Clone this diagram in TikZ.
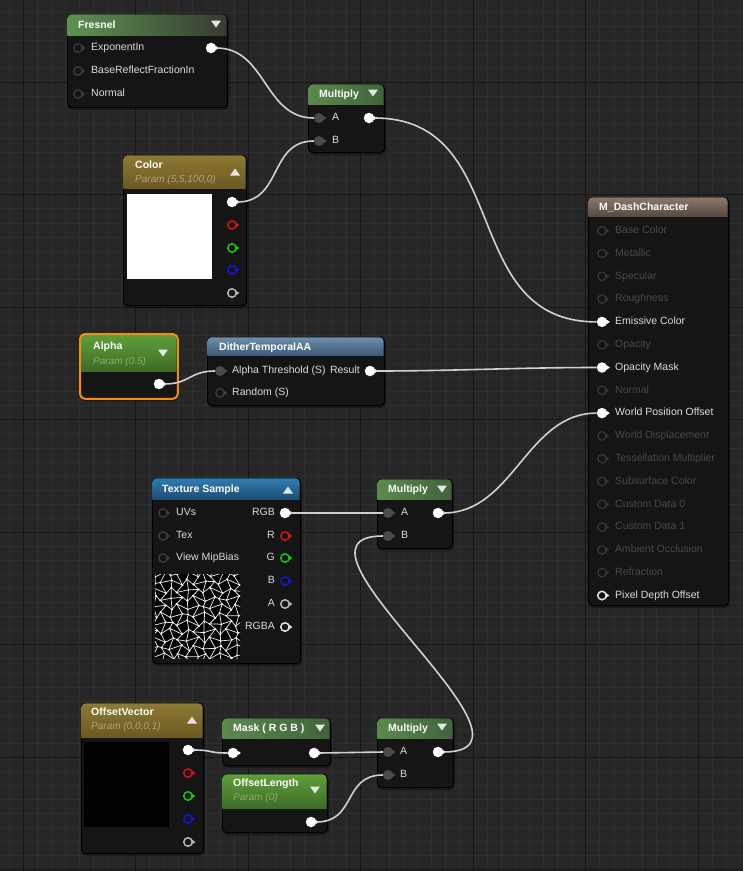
\documentclass[tikz,border=0pt]{standalone}
\usepackage{fontspec}
\setmainfont{Liberation Sans}
\usetikzlibrary{calc}
\newfontfamily\uef{Liberation Sans}
\newcommand\uettlfont{\uef\bfseries\fontsize{10.5}{12}\selectfont}
\newcommand\uelblfont{\uef\fontsize{10.5}{12}\selectfont}
\newcommand\uesubfont{\uef\itshape\fontsize{10}{12}\selectfont}
\definecolor{bg}{HTML}{262626}
\definecolor{gminor}{HTML}{2E2E2E}
\definecolor{gmajor}{HTML}{161616}
\definecolor{bodyc}{HTML}{151515}
\definecolor{wirec}{HTML}{D0D0D0}
\definecolor{lblc}{HTML}{DCDCDC}
\definecolor{dimc}{HTML}{484848}
\definecolor{pinoff}{HTML}{3C3C3C}
\definecolor{pincon}{HTML}{4A4A4A}
\definecolor{tric}{HTML}{E6E6E6}
\definecolor{hgreenL}{HTML}{5E9250}
\definecolor{hgreenR}{HTML}{353B31}
\definecolor{mgreenL}{HTML}{5A8A4C}
\definecolor{mgreenR}{HTML}{41633A}
\definecolor{pgreenT}{HTML}{5FA03A}
\definecolor{pgreenB}{HTML}{3E6C26}
\definecolor{goldT}{HTML}{8E7A34}
\definecolor{goldB}{HTML}{6A5A22}
\definecolor{texT}{HTML}{2F7DB5}
\definecolor{texB}{HTML}{1D4E72}
\definecolor{ditT}{HTML}{6F8FAE}
\definecolor{ditB}{HTML}{3F5C78}
\definecolor{mdT}{HTML}{8A7A6C}
\definecolor{mdB}{HTML}{574A40}
\definecolor{goldsub}{HTML}{B4A272}
\definecolor{greensub}{HTML}{86AE6C}
\definecolor{selc}{HTML}{EE8E0C}
\definecolor{pred}{HTML}{D41414}
\definecolor{pgreen}{HTML}{14C814}
\definecolor{pblue}{HTML}{1414D4}
\definecolor{pgray}{HTML}{B4B4B4}
\definecolor{pwhite}{HTML}{E4E4E4}
\definecolor{moff}{HTML}{353535}

\tikzset{
 box/.style={draw=black, line width=0.8, fill=bodyc, rounded corners=4, inner sep=0, anchor=north west},
 ttl/.style={font=\uettlfont, text=white, anchor=west, inner sep=0},
 lbl/.style={font=\uelblfont, text=lblc, anchor=west, inner sep=0, text height=7.6, text depth=2.2},
 lblr/.style={lbl, anchor=east},
 dimlbl/.style={lbl, text=dimc},
 sublbl/.style={font=\uesubfont, anchor=west, inner sep=0},
 pout/.style={circle, fill=white, minimum size=10.5, inner sep=0},
 pring/.style={circle, draw=#1, line width=1.5, fill=bodyc, minimum size=8.5, inner sep=0},
 poff/.style={circle, draw=pinoff, line width=1.3, fill=bodyc, minimum size=8.5, inner sep=0},
 pmoff/.style={circle, draw=moff, line width=1.3, fill=bodyc, minimum size=8.5, inner sep=0},
 pcon/.style={circle, fill=pincon, minimum size=10, inner sep=0},
 wire/.style={draw=wirec, line width=1.6},
 texline/.style={draw=white!82!gray, line width=0.75},
}

% node box: name, x1, y1, x2, y2, header bottom, shading
\newcommand\uenode[7]{%
 \fill[black, opacity=0.35, rounded corners=5] (#2+1,#3+2) rectangle (#4+2,#5+3);
 \node[box, minimum width={#4-#2}, minimum height={#5-#3}] (#1) at (#2,#3) {};
 \begin{scope}
 \clip[rounded corners=4] (#2+0.4,#3+0.4) rectangle (#4-0.4,#5-0.4);
 \shade[#7] (#2,#3) rectangle (#4,#6);
 \end{scope}}
\newcommand\pinarr[2]{\fill[#2] ($(#1.east)+(-1,-2.4)$) -- ++(3.4,2.4) -- ++(-3.4,2.4) -- cycle;}
\newcommand\pinp[4]{\node[#3] (#1) at (#2) {}; \pinarr{#1}{#4}}
\newcommand\hdown[2]{\fill[tric] ({#1-5},{#2-3.5}) -- ({#1+5},{#2-3.5}) -- (#1,{#2+3.5}) -- cycle;}
\newcommand\hup[2]{\fill[tric] ({#1-5},{#2+3.5}) -- ({#1+5},{#2+3.5}) -- (#1,{#2-3.5}) -- cycle;}

\begin{document}
\begin{tikzpicture}[x=1pt,y=-1pt]
\useasboundingbox (0,0) rectangle (743,871);
% background grid
\fill[bg] (0,0) rectangle (743,871);
\foreach \k in {0,...,53} \draw[gminor, line width=0.8] ({9.24+14.0625*\k},0) -- ++(0,871);
\foreach \k in {0,...,62} \draw[gminor, line width=0.8] (0,{12.0+14.0625*\k}) -- ++(743,0);
\foreach \k in {0,...,6} \draw[gmajor, line width=1.2] ({23.3+112.5*\k},0) -- ++(0,871);
\foreach \k in {0,...,7} \draw[gmajor, line width=1.2] (0,{82.3+112.5*\k}) -- ++(743,0);

% ---------------- Fresnel
\uenode{fres}{67}{14}{227}{107}{35}{left color=hgreenL, right color=hgreenR}
\node[ttl] (fres-t) at (78,25) {Fresnel};
\hdown{216}{24}
\pinp{fres-i1}{78,48}{poff}{pinoff}
\pinp{fres-i2}{78,71}{poff}{pinoff}
\pinp{fres-i3}{78,94}{poff}{pinoff}
\node[lbl] (fres-l1) at (91,48) {ExponentIn};
\node[lbl] (fres-l2) at (91,71) {BaseReflectFractionIn};
\node[lbl] (fres-l3) at (91,94) {Normal};
\pinp{fres-o}{211,48}{pout}{white}

% ---------------- Multiply (top)
\uenode{mul1}{308}{84}{384}{152}{104}{left color=mgreenL, right color=mgreenR}
\node[ttl] (mul1-t) at (319,94.5) {Multiply};
\hdown{373}{93}
\pinp{mul1-a}{319,118}{pcon}{pincon}
\pinp{mul1-b}{319,141}{pcon}{pincon}
\node[lbl] (mul1-la) at (332,118) {A};
\node[lbl] (mul1-lb) at (332,141) {B};
\pinp{mul1-o}{369,118}{pout}{white}

% ---------------- Color
\uenode{colr}{123}{155}{246}{305}{188}{top color=goldT, bottom color=goldB}
\node[ttl] (colr-t) at (135,165) {Color};
\node[sublbl, text=goldsub] (colr-s) at (135,180) {Param (5,5,100,0)};
\hup{235}{172}
\fill[white] (127,194) rectangle (212,279);
\pinp{colr-o}{232,202}{pout}{white}
\pinp{colr-r}{232,225}{pring=pred}{pred}
\pinp{colr-g}{232,248}{pring=pgreen}{pgreen}
\pinp{colr-b}{232,270}{pring=pblue}{pblue}
\pinp{colr-a}{232,293}{pring=pgray}{pgray}

% ---------------- Alpha
\uenode{alph}{80}{334}{177}{398}{371}{top color=pgreenT, bottom color=pgreenB}
\draw[selc, line width=2, rounded corners=5] (alph.north west) rectangle (alph.south east);
\node[ttl] (alph-t) at (93,347) {Alpha};
\node[sublbl, text=greensub] (alph-s) at (93,362) {Param (0.5)};
\hdown{163}{353}
\pinp{alph-o}{159,384}{pout}{white}

% ---------------- DitherTemporalAA
\uenode{dith}{207}{337}{384}{405}{355}{top color=ditT, bottom color=ditB}
\node[ttl] (dith-t) at (219,347.5) {DitherTemporalAA};
\pinp{dith-a}{220,371}{pcon}{pincon}
\pinp{dith-r}{220,393}{poff}{pinoff}
\node[lbl] (dith-la) at (232,371) {Alpha Threshold (S)};
\node[lbl] (dith-lr) at (232,393) {Random (S)};
\node[lblr] (dith-lo) at (360,371) {Result};
\pinp{dith-o}{370,371}{pout}{white}

% ---------------- M_DashCharacter
\uenode{mdc}{588}{197}{728}{605}{216}{top color=mdT, bottom color=mdB}
\node[ttl] (mdc-t) at (599,207) {M\_DashCharacter};
\pinp{mdc-p0}{602,230.7}{pmoff}{moff}   \node[dimlbl] (mdc-l0) at (615,230.7) {Base Color};
\pinp{mdc-p1}{602,253.5}{pmoff}{moff}   \node[dimlbl] (mdc-l1) at (615,253.5) {Metallic};
\pinp{mdc-p2}{602,276.3}{pmoff}{moff}   \node[dimlbl] (mdc-l2) at (615,276.3) {Specular};
\pinp{mdc-p3}{602,299.1}{pmoff}{moff}   \node[dimlbl] (mdc-l3) at (615,299.1) {Roughness};
\pinp{mdc-em}{602,321.9}{pout}{white}   \node[lbl] (mdc-l4) at (615,321.9) {Emissive Color};
\pinp{mdc-p5}{602,344.7}{pmoff}{moff}   \node[dimlbl] (mdc-l5) at (615,344.7) {Opacity};
\pinp{mdc-om}{602,367.5}{pout}{white}   \node[lbl] (mdc-l6) at (615,367.5) {Opacity Mask};
\pinp{mdc-p7}{602,390.3}{pmoff}{moff}   \node[dimlbl] (mdc-l7) at (615,390.3) {Normal};
\pinp{mdc-wpo}{602,413.1}{pout}{white}  \node[lbl] (mdc-l8) at (615,413.1) {World Position Offset};
\pinp{mdc-p9}{602,435.9}{pmoff}{moff}   \node[dimlbl] (mdc-l9) at (615,435.9) {World Displacement};
\pinp{mdc-p10}{602,458.7}{pmoff}{moff}  \node[dimlbl] (mdc-l10) at (615,458.7) {Tessellation Multiplier};
\pinp{mdc-p11}{602,481.5}{pmoff}{moff}  \node[dimlbl] (mdc-l11) at (615,481.5) {Subsurface Color};
\pinp{mdc-p12}{602,504.3}{pmoff}{moff}  \node[dimlbl] (mdc-l12) at (615,504.3) {Custom Data 0};
\pinp{mdc-p13}{602,527.1}{pmoff}{moff}  \node[dimlbl] (mdc-l13) at (615,527.1) {Custom Data 1};
\pinp{mdc-p14}{602,549.9}{pmoff}{moff}  \node[dimlbl] (mdc-l14) at (615,549.9) {Ambient Occlusion};
\pinp{mdc-p15}{602,572.7}{pmoff}{moff}  \node[dimlbl] (mdc-l15) at (615,572.7) {Refraction};
\pinp{mdc-p16}{602,595.5}{pring=pwhite}{pwhite} \node[lbl] (mdc-l16) at (615,595.5) {Pixel Depth Offset};

% ---------------- Texture Sample
\uenode{tex}{152}{478}{300}{663}{499}{top color=texT, bottom color=texB}
\node[ttl] (tex-t) at (162,490) {Texture Sample};
\hup{288}{490}
\pinp{tex-i1}{163,513}{poff}{pinoff}
\pinp{tex-i2}{163,536}{poff}{pinoff}
\pinp{tex-i3}{163,558}{poff}{pinoff}
\node[lbl] (tex-l1) at (176,513) {UVs};
\node[lbl] (tex-l2) at (176,536) {Tex};
\node[lbl] (tex-l3) at (176,558) {View MipBias};
\pinp{tex-rgb}{285,513}{pout}{white}   \node[lblr] (tex-r1) at (275,513) {RGB};
\pinp{tex-r}{285,536}{pring=pred}{pred}  \node[lblr] (tex-r2) at (275,536) {R};
\pinp{tex-g}{285,558}{pring=pgreen}{pgreen} \node[lblr] (tex-r3) at (275,558) {G};
\pinp{tex-b}{285,581}{pring=pblue}{pblue}  \node[lblr] (tex-r4) at (275,581) {B};
\pinp{tex-a}{285,604}{pring=pgray}{pgray}  \node[lblr] (tex-r5) at (275,604) {A};
\pinp{tex-rgba}{285,627}{pring=pwhite}{pwhite} \node[lblr] (tex-r6) at (275,627) {RGBA};
\begin{scope}
\clip (155,574) rectangle (240,658);
\fill[black] (155,574) rectangle (240,658);
\foreach \i in {-1,...,11} {\foreach \j in {-1,...,11} {
 \pgfmathsetmacro\ax{155+8.2*\i+3.0*sin(\i*97+\j*173)}
 \pgfmathsetmacro\ay{574+8.2*\j+3.0*cos(\i*211+\j*67)}
 \pgfmathsetmacro\bx{155+8.2*(\i+1)+3.0*sin((\i+1)*97+\j*173)}
 \pgfmathsetmacro\by{574+8.2*\j+3.0*cos((\i+1)*211+\j*67)}
 \pgfmathsetmacro\cx{155+8.2*\i+3.0*sin(\i*97+(\j+1)*173)}
 \pgfmathsetmacro\cy{574+8.2*(\j+1)+3.0*cos(\i*211+(\j+1)*67)}
 \draw[texline] (\bx,\by) -- (\ax,\ay) -- (\cx,\cy);
 \fill[white] (\ax,\ay) circle (1.0);
}}
\end{scope}

% ---------------- Multiply (middle)
\uenode{mul2}{377}{479}{452}{548}{499}{left color=mgreenL, right color=mgreenR}
\node[ttl] (mul2-t) at (388,490) {Multiply};
\hdown{442}{489}
\pinp{mul2-a}{388,513}{pcon}{pincon}
\pinp{mul2-b}{388,536}{pcon}{pincon}
\node[lbl] (mul2-la) at (401,513) {A};
\node[lbl] (mul2-lb) at (401,536) {B};
\pinp{mul2-o}{438,513}{pout}{white}

% ---------------- OffsetVector
\uenode{ovec}{81}{703}{203}{853}{737}{top color=goldT, bottom color=goldB}
\node[ttl] (ovec-t) at (91,712) {OffsetVector};
\node[sublbl, text=goldsub] (ovec-s) at (91,727) {Param (0,0,0,1)};
\hup{192}{720}
\fill[black] (84,742) rectangle (169,827);
\pinp{ovec-o}{188,750}{pout}{white}
\pinp{ovec-r}{188,773}{pring=pred}{pred}
\pinp{ovec-g}{188,796}{pring=pgreen}{pgreen}
\pinp{ovec-b}{188,819}{pring=pblue}{pblue}
\pinp{ovec-a}{188,842}{pring=pgray}{pgray}

% ---------------- Mask
\uenode{mask}{222}{718}{330}{765}{738}{left color=mgreenL, right color=mgreenR}
\node[ttl] (mask-t) at (233,729) {Mask ( R G B )};
\hdown{320}{728}
\pinp{mask-i}{233,753}{pout}{white}
\pinp{mask-o}{314,753}{pout}{white}

% ---------------- OffsetLength
\uenode{olen}{222}{774}{327}{832}{808}{top color=pgreenT, bottom color=pgreenB}
\node[ttl] (olen-t) at (233,784) {OffsetLength};
\node[sublbl, text=greensub] (olen-s) at (233,798) {Param (0)};
\hdown{315}{790}
\pinp{olen-o}{311,822}{pout}{white}

% ---------------- Multiply (bottom)
\uenode{mul3}{377}{718}{453}{787}{738}{left color=mgreenL, right color=mgreenR}
\node[ttl] (mul3-t) at (388,729) {Multiply};
\hdown{442}{727}
\pinp{mul3-a}{388,752}{pcon}{pincon}
\pinp{mul3-b}{388,775}{pcon}{pincon}
\node[lbl] (mul3-la) at (400,752) {A};
\node[lbl] (mul3-lb) at (400,775) {B};
\pinp{mul3-o}{438,752}{pout}{white}

% ---------------- wires
\draw[wire] (fres-o.east) .. controls +(50,0) and +(-50,0) .. (mul1-a.west);
\draw[wire] (colr-o.east) .. controls +(45,0) and +(-45,0) .. (mul1-b.west);
\draw[wire] (mul1-o.east) .. controls +(140,0) and +(-140,0) .. (mdc-em.west);
\draw[wire] (alph-o.east) .. controls +(25,0) and +(-25,0) .. (dith-a.west);
\draw[wire] (dith-o.east) .. controls +(80,0) and +(-80,0) .. (mdc-om.west);
\draw[wire] (tex-rgb.east) -- (mul2-a.west);
\draw[wire] (mul2-o.east) .. controls +(70,0) and +(-70,0) .. (mdc-wpo.west);
\draw[wire] (mul3-o.east) .. controls +(120,0) and +(-117,0) .. (mul2-b.west);
\draw[wire] (ovec-o.east) .. controls +(20,0) and +(-20,0) .. (mask-i.west);
\draw[wire] (mask-o.east) -- (mul3-a.west);
\draw[wire] (olen-o.east) .. controls +(40,0) and +(-40,0) .. (mul3-b.west);
\end{tikzpicture}
\end{document}
